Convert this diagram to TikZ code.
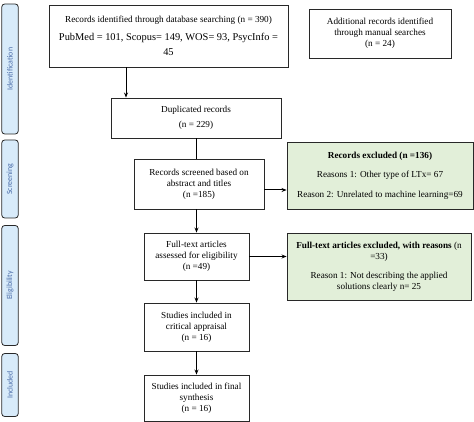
\documentclass[tikz,border=0pt]{standalone}
\usepackage{fontspec}
\setmainfont{Liberation Serif}
\newfontfamily\phasefont{Carlito}
\usetikzlibrary{arrows.meta}
\definecolor{prismagreen}{RGB}{226, 239, 217}
\definecolor{phaseblue}{RGB}{216, 235, 250}
\definecolor{phasetext}{RGB}{75, 108, 168}
\definecolor{boxline}{RGB}{40, 40, 40}

\begin{document}
\begin{tikzpicture}[x=1pt, y=-1pt,
    box/.style={rectangle, draw=boxline, line width=0.9pt, fill=white, align=center, inner sep=0pt, font=\fontsize{9.2}{11}\selectfont},
    exclbox/.style={box, fill=prismagreen},
    phase/.style={rectangle, rounded corners=3pt, draw=boxline, line width=0.8pt, fill=phaseblue, text=phasetext, inner sep=0pt, rotate=90, minimum height=16.5pt, font=\phasefont\fontsize{7.9}{9}\selectfont},
    arr/.style={-{Stealth[length=5pt, width=4pt]}, line width=1pt, black}]
    \useasboundingbox (0,0) rectangle (474,422);

    % Phase bars
    \node[phase, minimum width=130pt] (idbar) at (10,69) {Identification};
    \node[phase, minimum width=78pt] (scbar) at (10,179) {Screening};
    \node[phase, minimum width=120pt] (elbar) at (10,285.5) {Eligibility};
    \node[phase, minimum width=63pt] (inbar) at (10,385) {Included};

    % Identification
    \node[box, minimum width=239pt, minimum height=62pt, font=\fontsize{9.2}{15}\selectfont] (db) at (168.5,36) {Records identified through database searching (n = 390)\\[3pt]{\fontsize{10.4}{15}\selectfont PubMed = 101, Scopus= 149, WOS= 93, PsycInfo =}\\{\fontsize{10.4}{15}\selectfont 45}};
    \node[box, minimum width=142pt, minimum height=49pt] (manual) at (380,33.5) {Additional records identified\\through manual searches\\(n = 24)};
    \node[box, minimum width=170pt, minimum height=40pt, font=\fontsize{9.2}{15}\selectfont] (dup) at (196,118) {Duplicated records\\(n = 229)};

    % Screening
    \node[box, minimum width=130pt, minimum height=50pt] (scr) at (199,184) {Records screened based on\\abstract and titles\\(n =185)};
    \node[exclbox, minimum width=186pt, minimum height=67pt, font=\fontsize{9.2}{19.5}\selectfont] (excl1) at (380,175.5) {\textbf{Records excluded (n =136)}\\Reasons 1: Other type of LTx= 67\\Reason 2: Unrelated to machine learning=69};

    % Eligibility
    \node[box, minimum width=105pt, minimum height=47pt] (full) at (196.5,256.5) {Full-text articles\\assessed for eligibility\\(n =49)};
    \node[exclbox, minimum width=184pt, minimum height=67pt] (excl2) at (379,266.5) {\textbf{Full-text articles excluded, with reasons} (n\\=33)\\[8pt]Reason 1: Not describing the applied\\solutions clearly n= 25};
    \node[box, minimum width=105pt, minimum height=48pt] (crit) at (196.5,327) {Studies included in\\critical appraisal\\(n = 16)};

    % Included
    \node[box, minimum width=105pt, minimum height=46pt] (final) at (196.5,398) {Studies included in final\\synthesis\\(n = 16)};

    % Connectors
    \draw[arr] ([xshift=-42.5pt]db.south) -- ([xshift=-42.5pt]db.south |- dup.north);
    \draw[line width=1pt] (dup.south) -- (dup.south |- scr.north);
    \draw[arr] ([yshift=-6pt]scr.east) -- ([yshift=-6pt]scr.east -| excl1.west);
    \draw[arr] (full.north |- scr.south) -- (full.north);
    \draw[arr] (full.east) -- (full.east -| excl2.west);
    \draw[arr] (full.south) -- (crit.north);
    \draw[arr] (crit.south) -- (final.north);
\end{tikzpicture}
\end{document}
